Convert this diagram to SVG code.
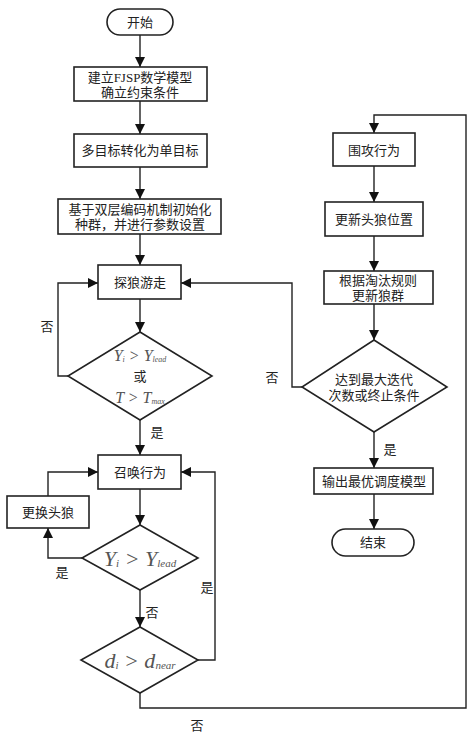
<svg xmlns="http://www.w3.org/2000/svg" width="474" height="735" viewBox="0 0 474 735">
<style>
.n{fill:#fff;stroke:#222;stroke-width:1.6}
.t{font-family:"Liberation Serif","Noto Sans CJK SC",serif;font-size:13px;fill:#222;text-anchor:middle;dominant-baseline:central}
.m{font-family:"Liberation Serif",serif;font-style:italic;fill:#555;text-anchor:middle;dominant-baseline:central}
.c{fill:none;stroke:#222;stroke-width:1.4}
</style>
<defs>
<marker id="a" markerUnits="userSpaceOnUse" markerWidth="11" markerHeight="11" refX="10" refY="5" orient="auto">
<path d="M0,0 L10,5 L0,10 z" fill="#111"/>
</marker>
</defs>
<rect width="474" height="735" fill="#fff"/>
<g id="connectors">
<path class="c" d="M140,35 V67" marker-end="url(#a)"/>
<path class="c" d="M140,101 V134" marker-end="url(#a)"/>
<path class="c" d="M140,167 V199" marker-end="url(#a)"/>
<path class="c" d="M140,234 V265" marker-end="url(#a)"/>
<path class="c" d="M140,299 V332" marker-end="url(#a)"/>
<path class="c" d="M68,376 H58 V283 H98" marker-end="url(#a)"/>
<path class="c" d="M140,420 V455" marker-end="url(#a)"/>
<path class="c" d="M140,489 V525" marker-end="url(#a)"/>
<path class="c" d="M82,558 H48 V528" marker-end="url(#a)"/>
<path class="c" d="M48,496 V472 H98" marker-end="url(#a)"/>
<path class="c" d="M140,590 V627" marker-end="url(#a)"/>
<path class="c" d="M198,660 H215 V472 H181" marker-end="url(#a)"/>
<path class="c" d="M140,693 V708 H466 V115 H374 V133" marker-end="url(#a)"/>
<path class="c" d="M374,166 V202" marker-end="url(#a)"/>
<path class="c" d="M374,236 V271" marker-end="url(#a)"/>
<path class="c" d="M374,304 V340" marker-end="url(#a)"/>
<path class="c" d="M302,387 H292 V283 H181" marker-end="url(#a)"/>
<path class="c" d="M374,432 V468" marker-end="url(#a)"/>
<path class="c" d="M374,494 V529" marker-end="url(#a)"/>
<text class="t" x="47" y="326">否</text>
<text class="t" x="157" y="432">是</text>
<text class="t" x="62" y="572">是</text>
<text class="t" x="152" y="612">否</text>
<text class="t" x="207" y="587">是</text>
<text class="t" x="197" y="725">否</text>
<text class="t" x="272" y="377">否</text>
<text class="t" x="390" y="449">是</text>
</g>
<g id="start"><rect class="n" x="107" y="9" width="66" height="26" rx="13"/><text class="t" x="140" y="22">开始</text></g>
<g id="model"><rect class="n" x="74" y="67" width="133" height="34"/><text class="t" x="140" y="77">建立FJSP数学模型</text><text class="t" x="140" y="92">确立约束条件</text></g>
<g id="single"><rect class="n" x="74" y="134" width="133" height="33"/><text class="t" x="140" y="150">多目标转化为单目标</text></g>
<g id="init"><rect class="n" x="58" y="199" width="163" height="35"/><text class="t" x="140" y="209">基于双层编码机制初始化</text><text class="t" x="140" y="224">种群，并进行参数设置</text></g>
<g id="scout"><rect class="n" x="98" y="265" width="83" height="34"/><text class="t" x="140" y="282">探狼游走</text></g>
<g id="d1"><path class="n" d="M140,332 L212,376 L140,420 L68,376 z"/>
<text class="m" x="140" y="355" font-size="16">Y<tspan font-size="8" dy="4">i</tspan><tspan dy="-4"> &gt; Y</tspan><tspan font-size="8" dy="4">lead</tspan></text>
<text class="t" x="140" y="376">或</text>
<text class="m" x="140" y="397" font-size="16">T &gt; T<tspan font-size="8" dy="4">max</tspan></text></g>
<g id="summon"><rect class="n" x="98" y="455" width="83" height="34"/><text class="t" x="140" y="472">召唤行为</text></g>
<g id="swap"><rect class="n" x="7" y="496" width="82" height="32"/><text class="t" x="48" y="512">更换头狼</text></g>
<g id="d2"><path class="n" d="M140,525 L198,558 L140,590 L82,558 z"/>
<text class="m" x="140" y="558" font-size="22">Y<tspan font-size="11" dy="5">i</tspan><tspan dy="-5"> &gt; Y</tspan><tspan font-size="11" dy="5">lead</tspan></text></g>
<g id="d3"><path class="n" d="M140,627 L198,660 L140,693 L81,660 z"/>
<text class="m" x="140" y="660" font-size="22">d<tspan font-size="11" dy="5">i</tspan><tspan dy="-5"> &gt; d</tspan><tspan font-size="11" dy="5">near</tspan></text></g>
<g id="attack"><rect class="n" x="333" y="133" width="82" height="33"/><text class="t" x="374" y="150">围攻行为</text></g>
<g id="update"><rect class="n" x="325" y="202" width="98" height="34"/><text class="t" x="374" y="219">更新头狼位置</text></g>
<g id="renew"><rect class="n" x="324" y="271" width="109" height="33"/><text class="t" x="378" y="280">根据淘汰规则</text><text class="t" x="378" y="295">更新狼群</text></g>
<g id="d4"><path class="n" d="M374,340 L447,387 L374,432 L302,387 z"/><text class="t" x="374" y="379">达到最大迭代</text><text class="t" x="374" y="395">次数或终止条件</text></g>
<g id="output"><rect class="n" x="314" y="468" width="119" height="26"/><text class="t" x="374" y="481">输出最优调度模型</text></g>
<g id="end"><rect class="n" x="332" y="529" width="82" height="27" rx="13.5"/><text class="t" x="373" y="542">结束</text></g>
</svg>
